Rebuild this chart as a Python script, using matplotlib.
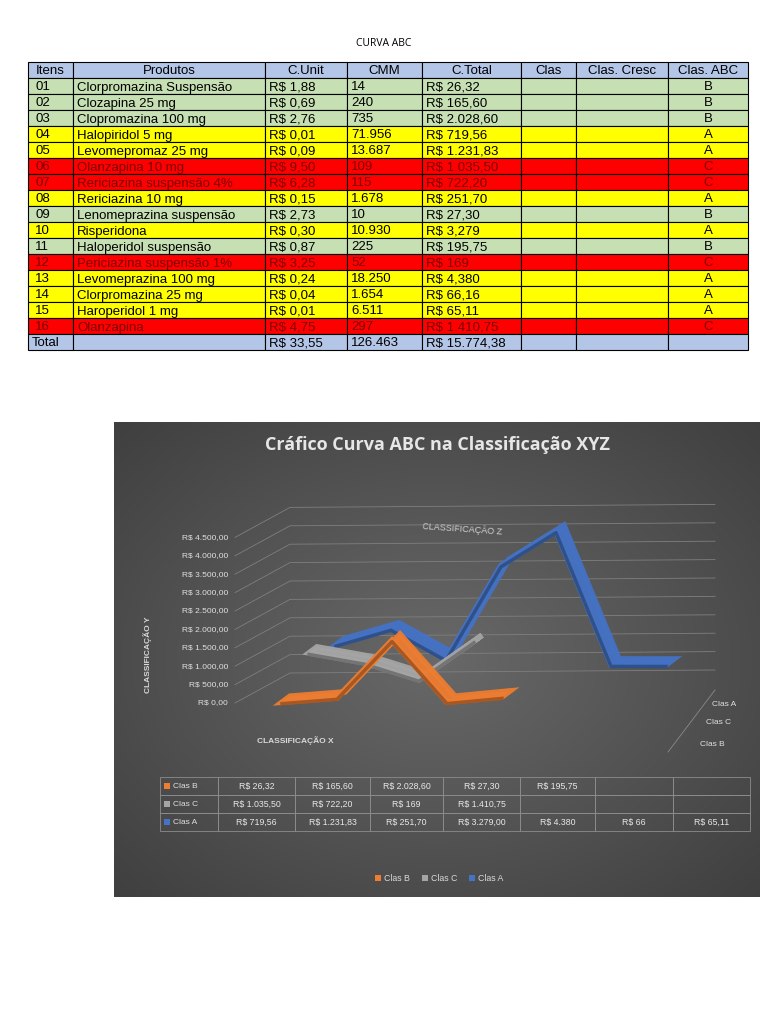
import matplotlib
matplotlib.use("Agg")
import matplotlib.pyplot as plt
import numpy as np
from matplotlib.patches import Rectangle, Polygon

plt.rcParams['font.family'] = ['Liberation Sans', 'DejaVu Sans']

# ---------- table data ----------
itens = ["01","02","03","04","05","06","07","08","09","10","11","12","13","14","15","16"]
produtos = ["Clorpromazina Suspensão","Clozapina 25 mg","Clopromazina 100 mg","Halopiridol 5 mg",
            "Levomepromaz 25 mg","Olanzapina 10 mg","Rericiazina suspensão 4%","Rericiazina 10 mg",
            "Lenomeprazina suspensão","Risperidona","Haloperidol suspensão","Periciazina suspensão 1%",
            "Levomeprazina 100 mg","Clorpromazina 25 mg","Haroperidol 1 mg","Olanzapina"]
c_unit = ["R$ 1,88","R$ 0,69","R$ 2,76","R$ 0,01","R$ 0,09","R$ 9,50","R$ 6,28","R$ 0,15",
          "R$ 2,73","R$ 0,30","R$ 0,87","R$ 3,25","R$ 0,24","R$ 0,04","R$ 0,01","R$ 4,75"]
cmm = ["14","240","735","71.956","13.687","109","115","1.678","10","10.930","225","52",
       "18.250","1.654","6.511","297"]
c_total = ["R$ 26,32","R$ 165,60","R$ 2.028,60","R$ 719,56","R$ 1.231,83","R$ 1.035,50",
           "R$ 722,20","R$ 251,70","R$ 27,30","R$ 3,279","R$ 195,75","R$ 169","R$ 4,380",
           "R$ 66,16","R$ 65,11","R$ 1.410,75"]
clas_abc = ["B","B","B","A","A","C","C","A","B","A","B","C","A","A","A","C"]
headers = ["Itens","Produtos","C.Unit","CMM","C.Total","Clas","Clas. Cresc","Clas. ABC"]
totals = ["Total","","R$ 33,55","126.463","R$ 15.774,38","","",""]

# ---------- chart data ----------
series_names = ["Clas B", "Clas C", "Clas A"]
clas_b = [26.32, 165.60, 2028.60, 27.30, 195.75]
clas_c = [1035.50, 722.20, 169, 1410.75]
clas_a = [719.56, 1231.83, 251.70, 3279.00, 4380, 66, 65.11]
clas_b_lbl = ["R$ 26,32","R$ 165,60","R$ 2.028,60","R$ 27,30","R$ 195,75"]
clas_c_lbl = ["R$ 1.035,50","R$ 722,20","R$ 169","R$ 1.410,75"]
clas_a_lbl = ["R$ 719,56","R$ 1.231,83","R$ 251,70","R$ 3.279,00","R$ 4.380","R$ 66","R$ 65,11"]
y_ticks = [0, 500, 1000, 1500, 2000, 2500, 3000, 3500, 4000, 4500]
y_tick_lbl = ["R$ 0,00","R$ 500,00","R$ 1.000,00","R$ 1.500,00","R$ 2.000,00","R$ 2.500,00",
              "R$ 3.000,00","R$ 3.500,00","R$ 4.000,00","R$ 4.500,00"]
colors = {"Clas B": "#ed7d31", "Clas C": "#a5a5a5", "Clas A": "#4472c4"}

fig = plt.figure(figsize=(7.68, 10.24), dpi=100)
ax = fig.add_axes([0, 0, 1, 1])
ax.set_xlim(0, 768); ax.set_ylim(1024, 0); ax.axis("off")

# ---------- table ----------
ax.text(384, 44, "CURVA ABC", ha="center", va="center", fontsize=7.5, family=["Open Sans"])
cols = [28, 73, 265, 347, 422, 521, 576, 668, 748]
top, rh = 62, 16
fill = {"B": "#c6e0b4", "A": "#ffff00", "C": "#ff0000"}
hdr_col = "#b4c6e7"
def row(y, vals, bg, tc, header=False):
    for j in range(8):
        ax.add_patch(Rectangle((cols[j], y), cols[j+1]-cols[j], rh, fc=bg, ec="black", lw=0.8))
        v = vals[j]
        if header or j == 7:
            ax.text((cols[j]+cols[j+1])/2, y+rh/2+1.5, v, ha="center", va="center", fontsize=9.5, color=tc)
        else:
            ax.text(cols[j]+(7 if j == 0 and vals[0] != "Total" else 4), y+rh/2+1.5, v,
                    ha="left", va="center", fontsize=9.5, color=tc)
row(top, headers, hdr_col, "black", header=True)
for i in range(16):
    c = clas_abc[i]
    tc = "#7b0000" if c == "C" else "black"
    row(top+rh*(i+1), [itens[i], produtos[i], c_unit[i], cmm[i], c_total[i], "", "", c], fill[c], tc)
row(top+rh*17, totals, hdr_col, "black")

# ---------- chart background ----------
x0c, x1c, y0c, y1c = 114, 760, 422, 897
gx, gy = np.meshgrid(np.linspace(-1, 1, 300), np.linspace(-1, 1, 220))
r = np.clip(np.sqrt(gx**2 + gy**2) / 1.4, 0, 1)
v = 0.25 + (0.16) * (1 - r)
ax.imshow(np.dstack([v, v, v]), extent=[x0c, x1c, y1c, y0c], aspect="auto", zorder=0)
ax.text((x0c+x1c)/2, 445, "Cráfico Curva ABC na Classificação XYZ", ha="center", va="center",
        fontsize=13, fontweight="bold", color="#e6e6e6", family=["Open Sans"])

# projection: category index, depth index, value -> pixels
def proj(ci, zi, val):
    return 282 + ci*55 + zi*27, 703 - zi*18 - val*0.031

# grid: side wall + back wall
for t, lbl in zip(y_ticks, y_tick_lbl):
    yl = 703 - t*0.0368
    ax.plot([235, 290, 715], [yl, yl-30, yl-33], color="#7f7f7f", lw=0.6, zorder=1)
    ax.text(228, yl, lbl, ha="right", va="center", fontsize=6, color="#e0e0e0")
ax.plot([715, 668], [690, 752], color="#8a8a8a", lw=0.6, zorder=1)
for lbl, (px, py) in zip(["Clas A", "Clas C", "Clas B"], [(712, 704), (706, 723), (700, 744)]):
    ax.text(px, py, lbl, ha="left", va="center", fontsize=6, color="#e0e0e0")

ax.text(462, 529, "CLASSIFICAÇÃO Z", ha="center", va="center", fontsize=6.5, color="#d0d0d0", rotation=-4)
ax.text(148, 655, "CLASSIFICAÇÃO Y", ha="center", va="center", fontsize=6, color="#d9d9d9",
        rotation=90, fontweight="bold")
ax.text(295, 741, "CLASSIFICAÇÃO X", ha="center", va="center", fontsize=6, color="#d9d9d9", fontweight="bold")

def ribbon(vals, zi, color, zo):
    pts = [proj(i, zi, v) for i, v in enumerate(vals)]
    xs = np.array([p[0] for p in pts]); ys = np.array([p[1] for p in pts])
    poly = np.vstack([np.column_stack([xs, ys]), np.column_stack([xs[::-1]+8, ys[::-1]-6])])
    ax.add_patch(Polygon(poly, closed=True, fc=color, ec=color, lw=4, alpha=0.95, zorder=zo, joinstyle="miter"))
    ax.plot(xs, ys+1.5, color=matplotlib.colors.to_hex(np.array(matplotlib.colors.to_rgb(color))*0.7),
            lw=2.5, zorder=zo+0.1)

ribbon(clas_a, 2, colors["Clas A"], 2)
ribbon(clas_c, 1, colors["Clas C"], 3)
ribbon(clas_b, 0, colors["Clas B"], 4)

# ---------- chart data table ----------
tcols = [160, 218, 295, 370, 443, 520, 595, 673, 750]
ttop, trh = 777, 18
for ri, (name, lbls) in enumerate(zip(series_names, [clas_b_lbl, clas_c_lbl, clas_a_lbl])):
    y = ttop + ri*trh
    for j in range(8):
        ax.add_patch(Rectangle((tcols[j], y), tcols[j+1]-tcols[j], trh, fc="none", ec="#8c8c8c", lw=0.6, zorder=5))
    ax.add_patch(Rectangle((164, y+trh/2-3), 6, 6, fc=colors[name], ec="none", zorder=6))
    ax.text(173, y+trh/2, name, ha="left", va="center", fontsize=6, color="#e0e0e0", zorder=6)
    for j, l in enumerate(lbls):
        ax.text((tcols[j+1]+tcols[j+2])/2, y+trh/2, l, ha="center", va="center", fontsize=6.3,
                color="#e8e8e8", zorder=6)

# legend
lx = 375
for name in series_names:
    ax.add_patch(Rectangle((lx, 875), 6, 6, fc=colors[name], ec="none", zorder=6))
    ax.text(lx+9, 878.5, name, ha="left", va="center", fontsize=6.3, color="#d9d9d9")
    lx += 47

fig.savefig("out.png", dpi=100)
